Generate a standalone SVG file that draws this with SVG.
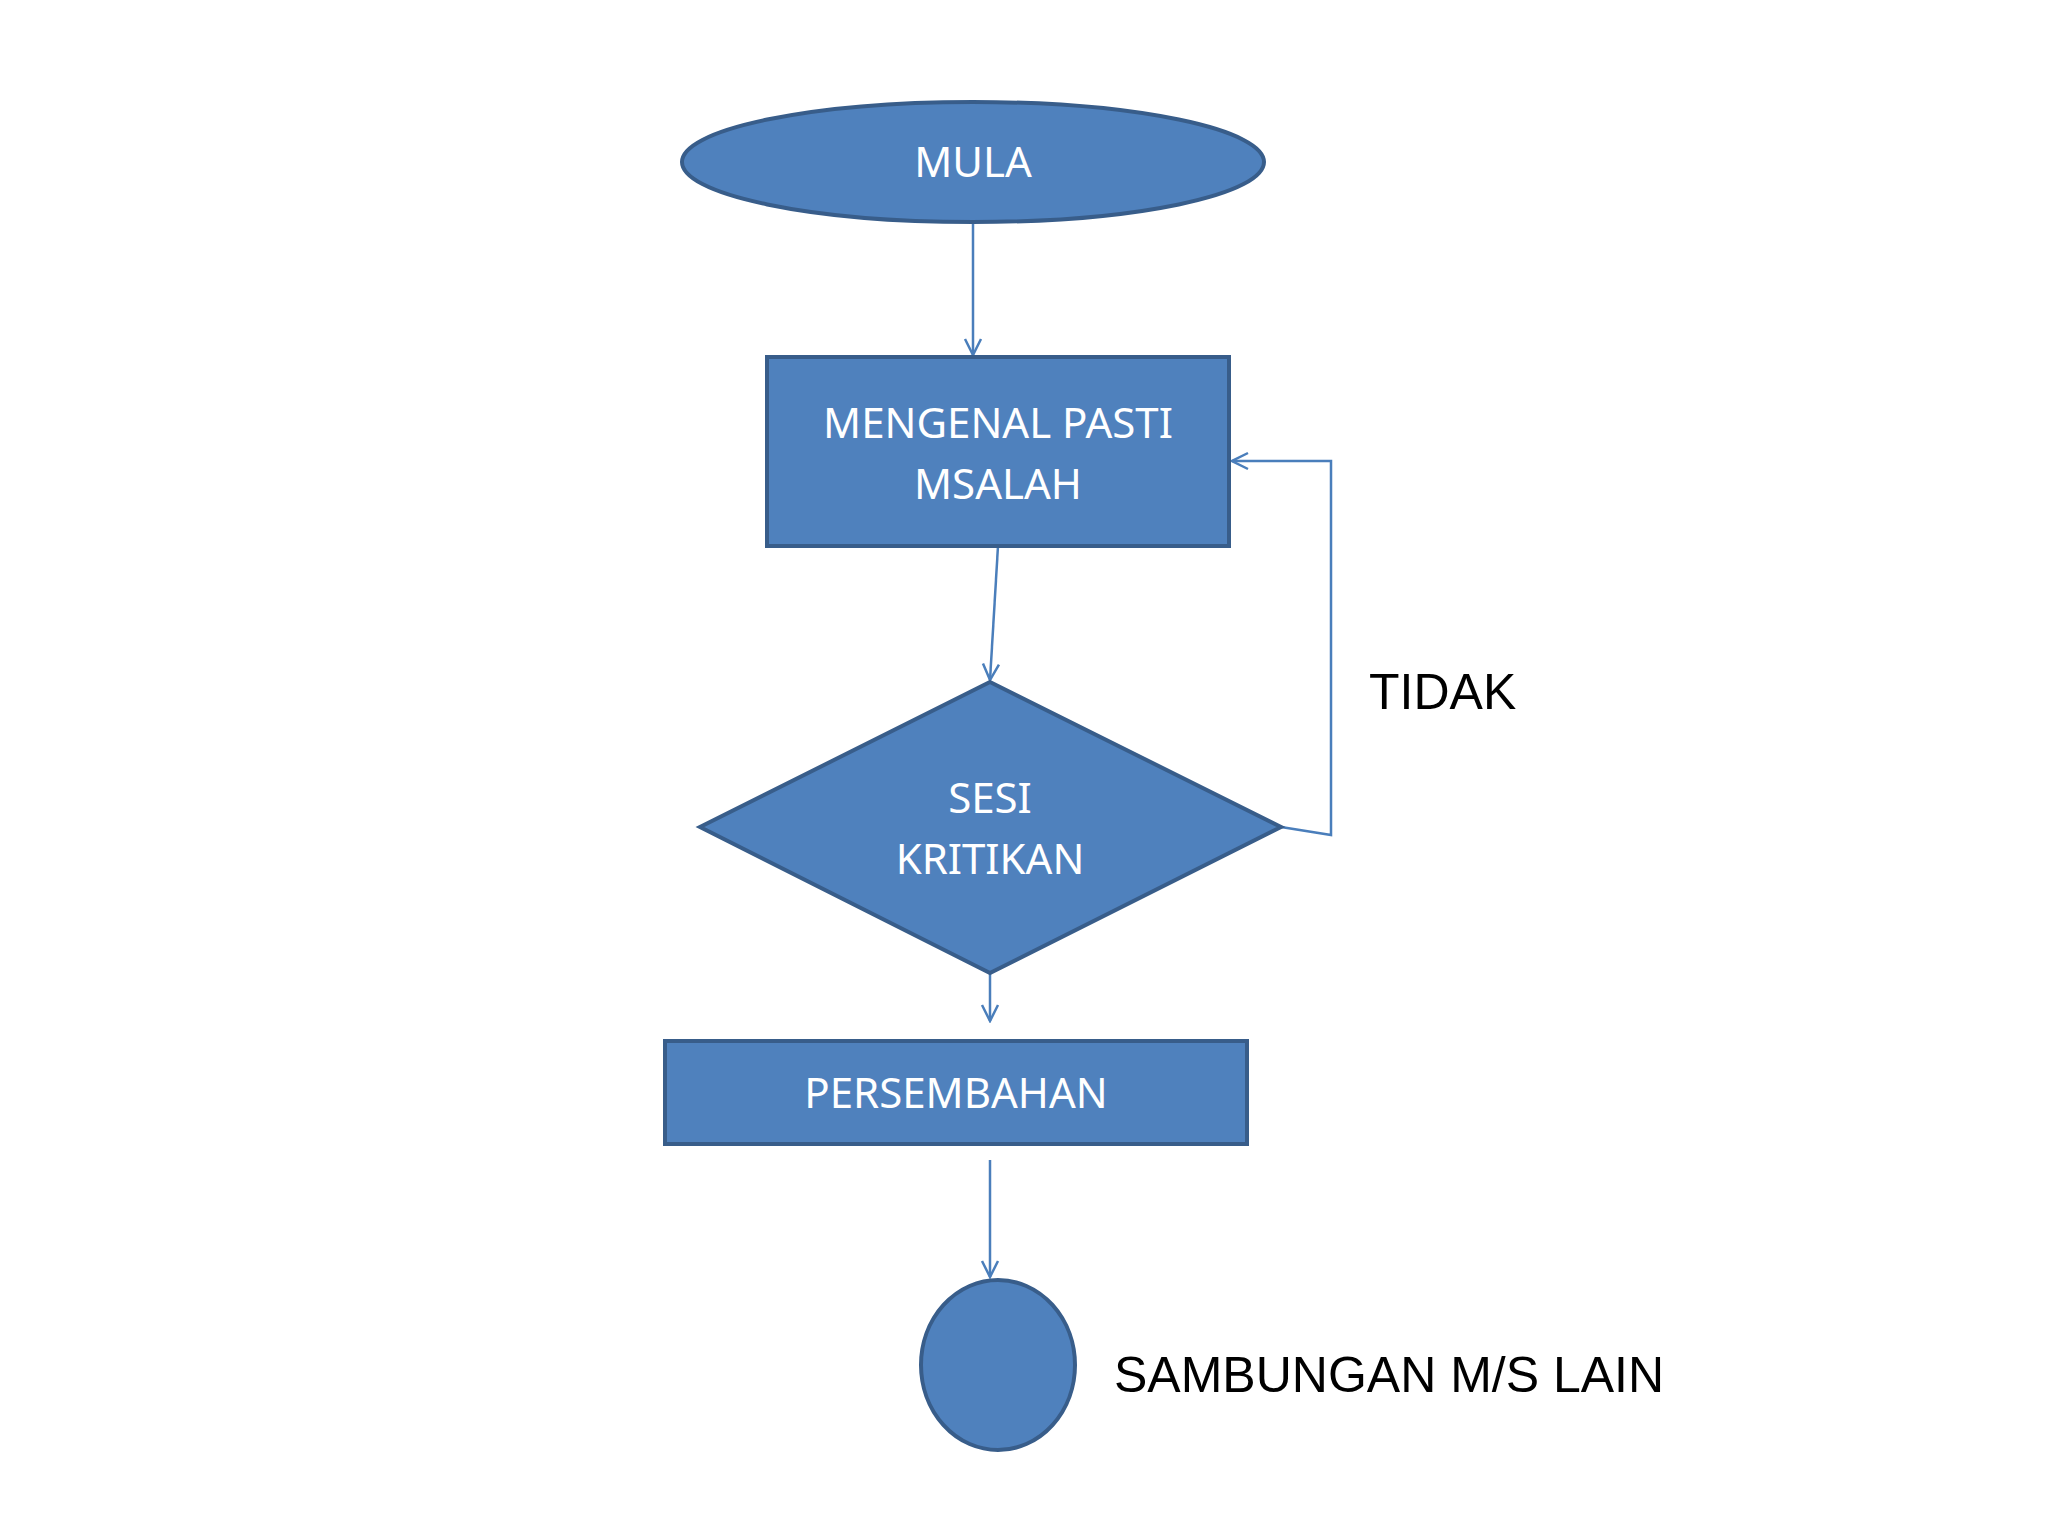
<svg xmlns="http://www.w3.org/2000/svg" width="2048" height="1536" viewBox="0 0 2048 1536">
<style>
.n{fill:#4f81bd;stroke:#385d8a;stroke-width:4}
.t{fill:#fff;font-family:"Noto Sans","Open Sans",sans-serif;font-size:42px;text-anchor:middle}
.l{fill:#000;font-family:"Liberation Sans",Arial,sans-serif;font-size:50px}
.c{fill:none;stroke:#4a7ebb;stroke-width:2.5}
</style>
<defs><marker id="a" markerWidth="20" markerHeight="20" refX="18" refY="10" orient="auto" markerUnits="userSpaceOnUse"><path d="M2,2 L18,10 L2,18" fill="none" stroke="#4a7ebb" stroke-width="2.5"/></marker></defs>
<rect width="2048" height="1536" fill="#fff"/>
<g id="connectors">
<path class="c" d="M973,222 L973,355" marker-end="url(#a)"/>
<path class="c" d="M998,546 L990,680" marker-end="url(#a)"/>
<path class="c" d="M990,973 L990,1021" marker-end="url(#a)"/>
<path class="c" d="M990,1160 L990,1277" marker-end="url(#a)"/>
<path class="c" d="M1281,827 L1331,835 L1331,461 L1232,461" marker-end="url(#a)"/>
</g>
<g id="mula"><ellipse class="n" cx="973" cy="162" rx="291" ry="60"/><text class="t" x="973" y="177">MULA</text></g>
<g id="mengenal"><rect class="n" x="767" y="357" width="462" height="189"/><text class="t" x="998" y="438">MENGENAL PASTI</text><text class="t" x="998" y="499">MSALAH</text></g>
<g id="sesi"><polygon class="n" points="990,682 1281,827 990,973 700,827"/><text class="t" x="990" y="813">SESI</text><text class="t" x="990" y="874">KRITIKAN</text></g>
<g id="persembahan"><rect class="n" x="665" y="1041" width="582" height="103"/><text class="t" x="956" y="1108">PERSEMBAHAN</text></g>
<g id="sambungan"><ellipse class="n" cx="998" cy="1365" rx="77" ry="85"/></g>
<text class="l" x="1369" y="709">TIDAK</text>
<text class="l" x="1114" y="1392">SAMBUNGAN M/S LAIN</text>
</svg>
